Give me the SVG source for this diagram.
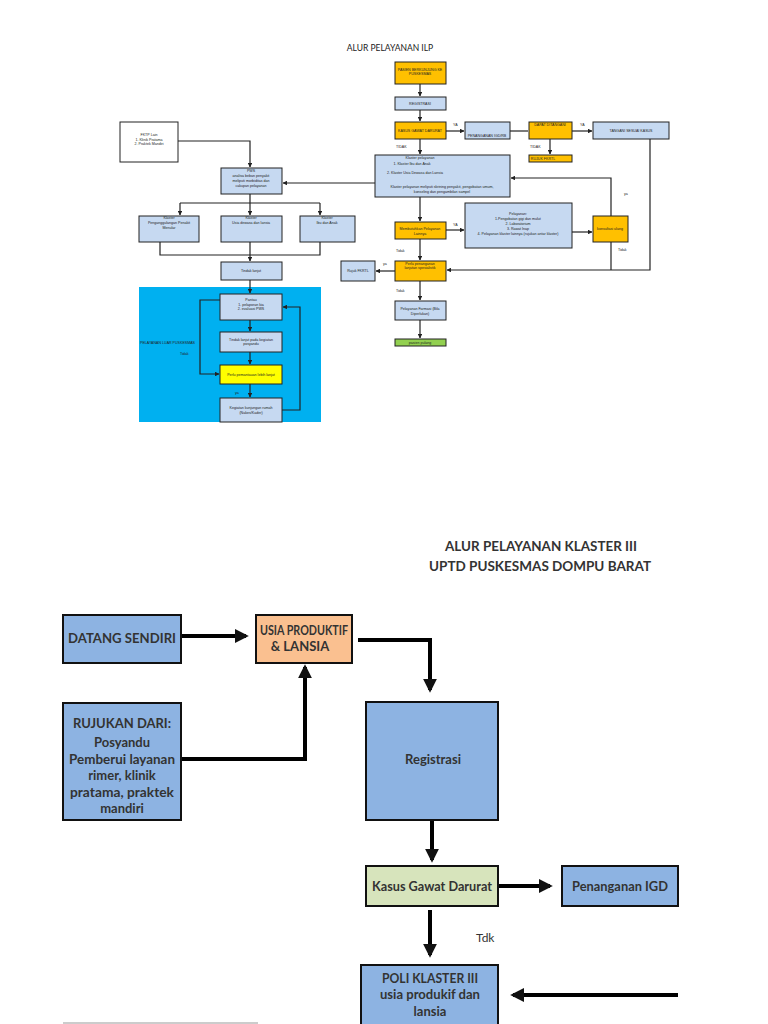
<svg xmlns="http://www.w3.org/2000/svg" width="768" height="1024" viewBox="0 0 768 1024">
<defs>
<marker id="a" viewBox="0 0 10 10" refX="9" refY="5" markerWidth="4" markerHeight="4" orient="auto"><path d="M0,0L10,5L0,10z" fill="#222"/></marker>
<marker id="b" viewBox="0 0 10 10" refX="8" refY="5" markerWidth="3.5" markerHeight="3.5" orient="auto"><path d="M0,0L10,5L0,10z" fill="#111"/></marker>
</defs>
<style>
.s rect{stroke:#222;stroke-width:1}
.o{fill:#ffc000}.lb{fill:#c6d9f1}.t{font-family:"Liberation Sans",sans-serif;font-size:3.6px;fill:#222;text-anchor:middle}
.l{font-family:"Liberation Sans",sans-serif;font-size:3.6px;fill:#222}
.c{fill:none;stroke:#222;stroke-width:1.2}
.B rect{stroke:#111;stroke-width:2}
.bb{fill:#8db3e2}
.T{font-family:Lato,"Liberation Sans",sans-serif;font-size:13px;font-weight:bold;fill:#333;text-anchor:middle}
.k{fill:none;stroke:#000;stroke-width:4}
</style>
<rect width="768" height="1024" fill="#fff"/>
<text x="390" y="51" font-family="Lato,'Liberation Sans',sans-serif" font-size="8.5" text-anchor="middle" fill="#222">ALUR PELAYANAN ILP</text>
<rect x="139" y="287" width="182" height="135" fill="#00b0f0"/>
<g id="top-connectors">
<path class="c" d="M420,84V96" marker-end="url(#a)"/>
<path class="c" d="M420,110V121" marker-end="url(#a)"/>
<path class="c" d="M446,131H464" marker-end="url(#a)"/>
<path class="c" d="M510,131H528"/>
<path class="c" d="M572,131H592" marker-end="url(#a)"/>
<path class="c" d="M550,139V154" marker-end="url(#a)"/>
<path class="c" d="M420,139V154" marker-end="url(#a)"/>
<path class="c" d="M420,197V221" marker-end="url(#a)"/>
<path class="c" d="M446,230H464" marker-end="url(#a)"/>
<path class="c" d="M572,232H592" marker-end="url(#a)"/>
<path class="c" d="M611,216V178H511" marker-end="url(#a)"/>
<path class="c" d="M611,242V270"/>
<path class="c" d="M650,139V270H447" marker-end="url(#a)"/>
<path class="c" d="M420,239V260" marker-end="url(#a)"/>
<path class="c" d="M395,271H376" marker-end="url(#a)"/>
<path class="c" d="M420,281V300" marker-end="url(#a)"/>
<path class="c" d="M420,320V338" marker-end="url(#a)"/>
<path class="c" d="M375,183H283" marker-end="url(#a)"/>
<path class="c" d="M178,141H250V167" marker-end="url(#a)"/>
<path class="c" d="M250,194V203M180,203H320" />
<path class="c" d="M180,203V215" marker-end="url(#a)"/>
<path class="c" d="M250,203V215" marker-end="url(#a)"/>
<path class="c" d="M320,203V215" marker-end="url(#a)"/>
<path class="c" d="M160,242V255H320V242"/>
<path class="c" d="M250,242V261" marker-end="url(#a)"/>
<path class="c" d="M250,280V293" marker-end="url(#a)"/>
<path class="c" d="M250,320V331" marker-end="url(#a)"/>
<path class="c" d="M250,352V364" marker-end="url(#a)"/>
<path class="c" d="M250,384V397" marker-end="url(#a)"/>
<path class="c" d="M220,300H200V374H219" marker-end="url(#a)"/>
<path class="c" d="M282,410H300V307H283" marker-end="url(#a)"/>
</g>
<g class="s">
<g id="pasien"><rect class="o" x="395" y="62" width="51" height="22"/><text class="t" x="420" y="71">PASIEN BERKUNJUNG KE</text><text class="t" x="420" y="75">PUSKESMAS</text></g>
<g id="registrasi"><rect class="lb" x="395" y="97" width="51" height="13"/><text class="t" x="420" y="105">REGISTRASI</text></g>
<g id="kgd"><rect class="o" x="395" y="122" width="51" height="17"/><text class="t" x="420" y="132">KASUS GAWAT DARURAT</text></g>
<g id="igdrb"><rect class="lb" x="465" y="122" width="45" height="17"/><text class="t" x="487" y="137">PENANGANAN IGD/RB</text></g>
<g id="dapat"><rect class="o" x="529" y="122" width="43" height="17"/><text class="t" x="550" y="126">DAPAT DITANGANI</text></g>
<g id="tangani"><rect class="lb" x="593" y="122" width="76" height="17"/><text class="t" x="631" y="132">TANGANI SESUAI KASUS</text></g>
<g id="rujuk1"><rect class="o" x="529" y="155" width="43" height="7"/><text class="t" x="543" y="160">RUJUK FKRTL</text></g>
<g id="klaster"><rect class="lb" x="375" y="155" width="135" height="42"/><text class="t" x="420" y="159">Klaster pelayanan</text><text class="t" x="412" y="165">1. Klaster Ibu dan Anak</text><text class="t" x="415" y="174">2. Klaster Usia Dewasa dan Lansia</text><text class="t" x="442" y="188">Klaster pelayanan meliputi skrining penyakit, pengobatan umum,</text><text class="t" x="442" y="193">konseling dan pengambilan sampel</text></g>
<g id="pelayanan"><rect class="lb" x="465" y="203" width="107" height="45"/><text class="t" x="518" y="215">Pelayanan:</text><text class="t" x="518" y="220">1.Pengobatan gigi dan mulut</text><text class="t" x="518" y="225">2. Laboratorium</text><text class="t" x="518" y="230">3. Rawat Inap</text><text class="t" x="518" y="235">4. Pelayanan klaster lainnya (rujukan antar klaster)</text></g>
<g id="membutuhkan"><rect class="o" x="395" y="222" width="51" height="17"/><text class="t" x="420" y="230">Membutuhkan Pelayanan</text><text class="t" x="420" y="235">Lainnya</text></g>
<g id="konsultasi"><rect class="o" x="593" y="216" width="35" height="26"/><text class="t" x="610" y="230">konsultasi ulang</text></g>
<g id="perlu"><rect class="o" x="395" y="261" width="51" height="20"/><text class="t" x="420" y="265">Perlu penanganan</text><text class="t" x="420" y="269">lanjutan spesialistik</text></g>
<g id="rujuk2"><rect class="lb" x="341" y="261" width="34" height="20"/><text class="t" x="358" y="272">Rujuk FKRTL</text></g>
<g id="farmasi"><rect class="lb" x="395" y="301" width="51" height="19"/><text class="t" x="420" y="310">Pelayanan Farmasi (Bila</text><text class="t" x="420" y="315">Diperlukan)</text></g>
<g id="pulang"><rect fill="#92d050" x="395" y="339" width="51" height="7"/><text class="t" x="420" y="344">pasien pulang</text></g>
<g id="fktp"><rect fill="#fff" x="120" y="122" width="58" height="40"/><text class="t" x="149" y="136">FKTP Lain</text><text class="t" x="149" y="141">1. Klinik Pratama</text><text class="t" x="149" y="145">2. Praktek Mandiri</text></g>
<g id="pws"><rect class="lb" x="221" y="168" width="61" height="26"/><text class="t" x="251" y="172">PWS</text><text class="t" x="251" y="177">analisa beban penyakit</text><text class="t" x="251" y="182">meliputi morbiditas dan</text><text class="t" x="251" y="187">cakupan pelayanan</text></g>
<g id="k-p2m"><rect class="lb" x="139" y="216" width="60" height="26"/><text class="t" x="169" y="219">Klaster</text><text class="t" x="169" y="224">Penganggulangan Penakit</text><text class="t" x="169" y="229">Menular</text></g>
<g id="k-usia"><rect class="lb" x="221" y="216" width="61" height="26"/><text class="t" x="251" y="219">Klaster</text><text class="t" x="251" y="224">Usia dewasa dan lansia</text></g>
<g id="k-ibu"><rect class="lb" x="300" y="216" width="55" height="26"/><text class="t" x="327" y="219">Klaster</text><text class="t" x="327" y="224">Ibu dan Anak</text></g>
<g id="tindak"><rect class="lb" x="221" y="262" width="61" height="18"/><text class="t" x="251" y="272">Tindak lanjut</text></g>
<g id="pantau"><rect class="lb" x="220" y="294" width="62" height="26"/><text class="t" x="251" y="301">Pantau</text><text class="t" x="251" y="306">1. pelaporan kia</text><text class="t" x="251" y="310">2. evaluasi PWS</text></g>
<g id="tl-posyandu"><rect class="lb" x="220" y="332" width="62" height="20"/><text class="t" x="251" y="341">Tindak lanjut pada kegiatan</text><text class="t" x="251" y="345">posyandu</text></g>
<g id="perlu-pantau"><rect fill="#ffff00" x="220" y="365" width="62" height="19"/><text class="t" x="251" y="376">Perlu pemantauan lebih lanjut</text></g>
<g id="kunjungan"><rect class="lb" x="220" y="398" width="62" height="24"/><text class="t" x="251" y="409">Kegiatan kunjungan rumah</text><text class="t" x="251" y="414">(Nakes/Kader)</text></g>
</g>
<g id="top-labels">
<text class="l" x="453" y="126">YA</text><text class="l" x="396" y="148">TIDAK</text><text class="l" x="580" y="126">YA</text><text class="l" x="530" y="148">TIDAK</text>
<text class="l" x="624" y="195">ya</text><text class="l" x="453" y="226">YA</text><text class="l" x="396" y="252">Tidak</text><text class="l" x="618" y="251">Tidak</text>
<text class="l" x="383" y="265">ya</text><text class="l" x="396" y="292">Tidak</text>
<text class="l" x="140" y="344">PELAYANAN LUAR PUSKESMAS</text><text class="l" x="180" y="355">Tidak</text><text class="l" x="235" y="394">ya</text>
</g>
<text class="T" x="541" y="551" font-size="15" textLength="192" lengthAdjust="spacingAndGlyphs">ALUR PELAYANAN KLASTER III</text>
<text class="T" x="540" y="571" font-size="15" textLength="222" lengthAdjust="spacingAndGlyphs">UPTD PUSKESMAS DOMPU BARAT</text>
<g id="bottom-connectors">
<path class="k" d="M181,636H246" marker-end="url(#b)"/>
<path class="k" d="M358,640H430V690" marker-end="url(#b)"/>
<path class="k" d="M181,759H305V667" marker-end="url(#b)"/>
<path class="k" d="M432,820V860" marker-end="url(#b)"/>
<path class="k" d="M498,886H550" marker-end="url(#b)"/>
<path class="k" d="M430,910V955" marker-end="url(#b)"/>
<path class="k" d="M678,995H513" marker-end="url(#b)"/>
</g>
<text x="476" y="942" font-family="Lato,sans-serif" font-size="12" fill="#333">Tdk</text>
<g class="B">
<g id="datang"><rect class="bb" x="63" y="615" width="118" height="48"/><text class="T" x="122" y="643" textLength="108" lengthAdjust="spacingAndGlyphs">DATANG SENDIRI</text></g>
<g id="usia"><rect fill="#fac090" x="256" y="615" width="96" height="48"/><text class="T" x="304" y="635" textLength="88" lengthAdjust="spacingAndGlyphs">USIA PRODUKTIF</text><text class="T" x="300" y="651">&amp; LANSIA</text></g>
<g id="rujukan"><rect class="bb" x="63" y="703" width="118" height="117"/><text class="T" x="122" y="728">RUJUKAN DARI:</text><text class="T" x="122" y="747">Posyandu</text><text class="T" x="122" y="764" textLength="106" lengthAdjust="spacingAndGlyphs">Pemberui layanan</text><text class="T" x="122" y="780">rimer, klinik</text><text class="T" x="122" y="797" textLength="104" lengthAdjust="spacingAndGlyphs">pratama, praktek</text><text class="T" x="122" y="813">mandiri</text></g>
<g id="registrasi2"><rect class="bb" x="366" y="702" width="132" height="118"/><text class="T" x="433" y="764">Registrasi</text></g>
<g id="kgd2"><rect fill="#d7e4bc" x="366" y="866" width="132" height="40"/><text class="T" x="432" y="891" textLength="120" lengthAdjust="spacingAndGlyphs">Kasus Gawat Darurat</text></g>
<g id="igd2"><rect class="bb" x="562" y="866" width="116" height="40"/><text class="T" x="620" y="891" textLength="96" lengthAdjust="spacingAndGlyphs">Penanganan IGD</text></g>
<g id="poli"><rect class="bb" x="361" y="965" width="137" height="64"/><text class="T" x="430" y="983" textLength="96" lengthAdjust="spacingAndGlyphs">POLI KLASTER III</text><text class="T" x="430" y="999" textLength="100" lengthAdjust="spacingAndGlyphs">usia produkif dan</text><text class="T" x="430" y="1016">lansia</text></g>
</g>
<line x1="63" y1="1023" x2="258" y2="1023" stroke="#999" stroke-width="1"/>
</svg>
